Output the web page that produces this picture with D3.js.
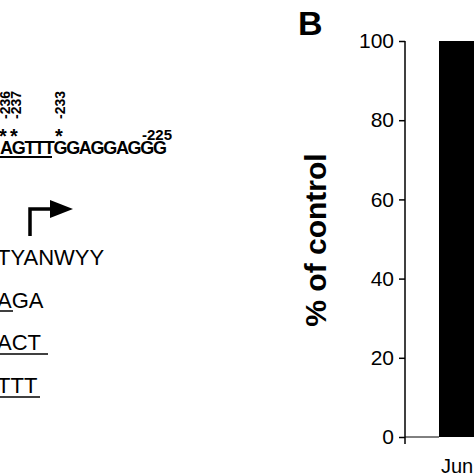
<!DOCTYPE html><html><head><script src="https://cdn.jsdelivr.net/npm/d3@7"></script>
<style>body{margin:0;background:#fff}svg{display:block}text{font-family:"Liberation Sans",Arial,sans-serif}</style></head><body>
<script>
const categories=["Jun"];
const values=[100];
const yTicks=[0,20,40,60,80,100];
const svg=d3.select("body").append("svg").attr("width",474).attr("height",474);
const pos=[{t:"-236",x:10},{t:"-237",x:21},{t:"-233",x:65}];
pos.forEach(p=>svg.append("text").attr("transform",`translate(${p.x},119) rotate(-90)`).attr("font-size",14).attr("font-weight","bold").text(p.t));
[-1,10,55].forEach(x=>svg.append("text").attr("x",x).attr("y",143).attr("font-size",20).attr("font-weight","bold").text("*"));
svg.append("text").attr("x",142).attr("y",140).attr("font-size",15).attr("font-weight","bold").text("-225");
svg.append("text").attr("x",0).attr("y",154).attr("font-size",18).attr("font-weight","bold").attr("textLength",167).text("AGTTTGGAGGAGGG");
svg.append("line").attr("x1",0).attr("x2",52).attr("y1",157).attr("y2",157).attr("stroke","#000").attr("stroke-width",2);
svg.append("path").attr("d","M30,236V209H52").attr("fill","none").attr("stroke","#000").attr("stroke-width",3.5);
svg.append("path").attr("d","M50,200L73,209L50,218Z").attr("fill","#000");
const seqs=[["TYANWYY",265],["AGA",308],["ACT",350],["TTT",393]];
seqs.forEach(s=>svg.append("text").attr("x",-3).attr("y",s[1]).attr("font-size",22).text(s[0]));
[[0,13,311],[0,48,354],[0,40,397]].forEach(u=>svg.append("line").attr("x1",u[0]).attr("x2",u[1]).attr("y1",u[2]).attr("y2",u[2]).attr("stroke","#000").attr("stroke-width",1.5));
svg.append("text").attr("x",298).attr("y",35).attr("font-size",34).attr("font-weight","bold").text("B");
const y=d3.scaleLinear().domain([0,100]).range([437,41]);
const x=d3.scaleBand().domain(categories).range([439,520]).paddingInner(0);
const ax=svg.append("g").attr("transform","translate(405,0)").call(d3.axisLeft(y).tickValues(yTicks).tickSize(6).tickSizeOuter(0));
ax.selectAll("text").attr("font-size",21).attr("dx","-2");
ax.select(".domain").attr("d","M0,41V444").attr("stroke-width",1.5);
ax.selectAll("line").attr("stroke-width",1.5);
svg.append("line").attr("x1",405).attr("x2",439).attr("y1",437).attr("y2",437).attr("stroke","#000").attr("stroke-width",1);
svg.selectAll("rect.bar").data(values).join("rect").attr("x",(d,i)=>x(categories[i])).attr("width",x.bandwidth()).attr("y",d=>y(d)).attr("height",d=>y(0)-y(d)).attr("fill","#000");
svg.append("text").attr("x",441).attr("y",473).attr("font-size",20).text(categories[0]);
svg.append("text").attr("transform","translate(326,240) rotate(-90)").attr("text-anchor","middle").attr("font-size",30).attr("font-weight","bold").text("% of control");
</script></body></html>
